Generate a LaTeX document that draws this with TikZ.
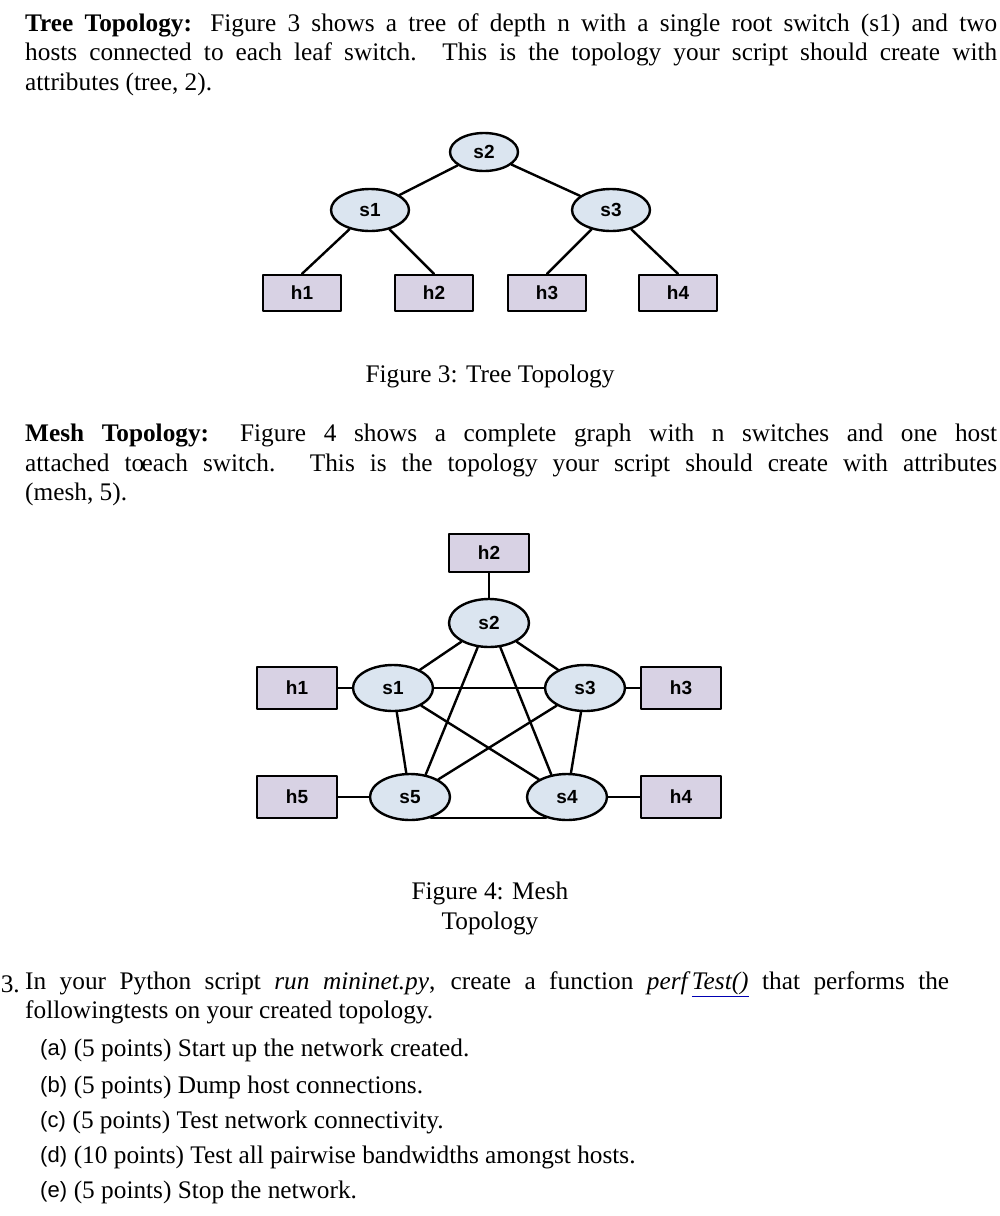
\documentclass[tikz,border=0pt]{standalone}
\usepackage{fontspec}
\setmainfont{Liberation Serif}
\newfontfamily\labelsans{Liberation Sans}
\usetikzlibrary{shapes.geometric}
\definecolor{swfill}{RGB}{219,229,240}
\definecolor{hostfill}{RGB}{216,210,228}
\tikzset{
  sw/.style={ellipse,draw,line width=2.4pt,fill=swfill,minimum width=78pt,minimum height=42pt,inner sep=0pt,font=\labelsans\bfseries\fontsize{19}{22}\selectfont},
  host/.style={rectangle,draw,line width=2.4pt,fill=hostfill,minimum width=80pt,minimum height=38pt,inner sep=0pt,font=\labelsans\bfseries\fontsize{19}{22}\selectfont},
  link/.style={line width=2.4pt},
  txt/.style={anchor=west,inner sep=0pt,font=\fontsize{25.3}{29}\selectfont},
  item/.style={anchor=west,inner sep=0pt,font=\labelsans\fontsize{22}{26}\selectfont}
}
\newcommand{\jline}[1]{\makebox[972pt][s]{#1}}
\begin{document}
\begin{tikzpicture}[line cap=round,line join=round,x=1pt,y=-1pt]
 		\useasboundingbox[fill=white] (0,0) rectangle (1000,1216);
 		% first paragraph
 		\node[txt] (p1a) at (25,25) {\jline{\textbf{Tree Topology:} Figure 3 shows a tree of depth n with a single root switch (s1) and two}};
 		\node[txt] (p1b) at (25,54) {\jline{hosts connected to each leaf switch. This is the topology your script should create with}};
 		\node[txt] (p1c) at (25,84) {attributes (tree, 2).};
 		% tree figure
 		\node[sw,minimum width=68pt,minimum height=38pt] (ts2) at (484,152) {s2};
 		\node[sw] (ts1) at (370,210) {s1};
 		\node[sw] (ts3) at (611,210) {s3};
 		\node[host,minimum width=78pt,minimum height=36pt] (th1) at (302,293) {h1};
 		\node[host,minimum width=78pt,minimum height=36pt] (th2) at (434,293) {h2};
 		\node[host,minimum width=78pt,minimum height=36pt] (th3) at (547,293) {h3};
 		\node[host,minimum width=78pt,minimum height=36pt] (th4) at (678,293) {h4};
 		\draw[link] (ts2) -- (ts1);
 		\draw[link] (ts2) -- (ts3);
 		\draw[link] (ts1) -- (th1.north);
 		\draw[link] (ts1) -- (th2.north);
 		\draw[link] (ts3) -- (th3.north);
 		\draw[link] (ts3) -- (th4.north);
 		\node[txt,anchor=center] (cap3) at (490,376) {Figure 3: Tree Topology};
 		% second paragraph
 		\node[txt] (p2a) at (25,436) {\jline{\textbf{Mesh Topology:} Figure 4 shows a complete graph with n switches and one host}};
 		\node[txt] (p2b) at (25,465) {\jline{attached to\hspace{-0.1em}each switch. This is the topology your script should create with attributes}};
 		\node[txt] (p2c) at (25,494) {(mesh, 5).};
 		% mesh figure
 		\node[host] (mh2) at (489,553) {h2};
 		\node[sw,minimum width=80pt,minimum height=48pt] (ms2) at (489,623) {s2};
 		\node[sw,minimum width=80pt,minimum height=46pt] (ms1) at (393,688) {s1};
 		\node[sw,minimum width=80pt,minimum height=46pt] (ms3) at (585,688) {s3};
 		\node[sw,minimum width=80pt,minimum height=46pt] (ms5) at (410,797) {s5};
 		\node[sw,minimum width=80pt,minimum height=46pt] (ms4) at (567,797) {s4};
 		\node[host,minimum height=42pt] (mh1) at (297,688) {h1};
 		\node[host,minimum height=42pt] (mh3) at (681,688) {h3};
 		\node[host,minimum height=42pt] (mh5) at (297,797) {h5};
 		\node[host,minimum height=42pt] (mh4) at (681,797) {h4};
 		\draw[link] (mh2) -- (ms2);
 		\draw[link] (mh1) -- (ms1);
 		\draw[link] (mh3) -- (ms3);
 		\draw[link] (mh5) -- (ms5);
 		\draw[link] (mh4) -- (ms4);
 		\draw[link] (ms2) -- (ms1);
 		\draw[link] (ms2) -- (ms3);
 		\draw[link] (ms2.-115) -- (ms5.55);
 		\draw[link] (ms2.-65) -- (ms4.125);
 		\draw[link] (ms1) -- (ms3);
 		\draw[link] (ms1) -- (ms5);
 		\draw[link] (ms1) -- (ms4);
 		\draw[link] (ms3) -- (ms5);
 		\draw[link] (ms3) -- (ms4);
 		\draw[link] (ms5.-45) -- (ms4.-135);
 		\node[txt,anchor=center] (cap4a) at (490,893) {Figure 4: Mesh};
 		\node[txt,anchor=center] (cap4b) at (490,923) {Topology};
 		% task list
 		\node[txt,anchor=east] (num3) at (20,984) {3.};
 		\node[txt] (p3a) at (25,984) {\makebox[924pt][s]{In your Python script \textit{run mininet.py}, create a function \textit{perf\,{\color{blue!70!black}\underline{\color{black}Test()}}} that performs the}};
 		\node[txt] (p3b) at (25,1012) {followingtests on your created topology.};
 		\node[item] (ia) at (40,1050) {(a)};
 		\node[txt] (ta) at (ia.east) {\ (5 points) Start up the network created.};
 		\node[item] (ib) at (40,1087) {(b)};
 		\node[txt] (tb) at (ib.east) {\ (5 points) Dump host connections.};
 		\node[item] (ic) at (40,1122) {(c)};
 		\node[txt] (tc) at (ic.east) {\ (5 points) Test network connectivity.};
 		\node[item] (id) at (40,1157) {(d)};
 		\node[txt] (td) at (id.east) {\ (10 points) Test all pairwise bandwidths amongst hosts.};
 		\node[item] (ie) at (40,1192) {(e)};
 		\node[txt] (te) at (ie.east) {\ (5 points) Stop the network.};
 	\end{tikzpicture}
\end{document}
